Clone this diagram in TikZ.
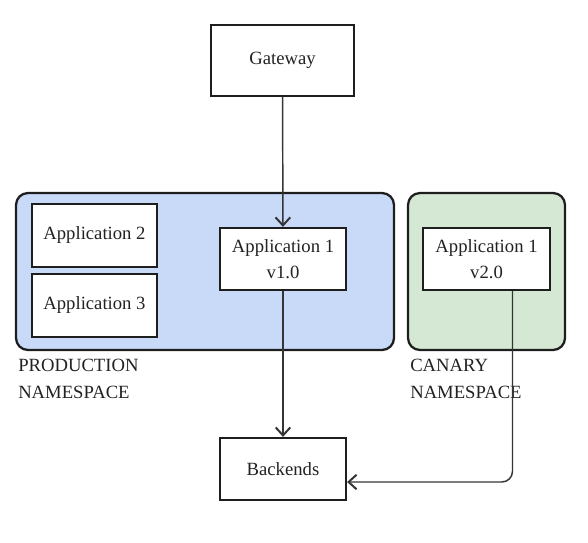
\documentclass[tikz,border=0pt]{standalone}
\usepackage{fontspec}
\setmainfont{Liberation Serif}
\usetikzlibrary{arrows.meta,positioning}
\definecolor{prodblue}{HTML}{C9DAF8}
\definecolor{canarygreen}{HTML}{D5E8D4}
\definecolor{edgegray}{HTML}{1E1E1E}
\definecolor{textgray}{HTML}{222222}

\tikzset{
  box/.style={draw=edgegray, line width=1.7pt, fill=white, rectangle, text=textgray, align=center,
    font=\fontsize{14}{20}\selectfont, inner sep=0pt},
  nsbox/.style={draw=edgegray, line width=1.7pt, rounded corners=9pt, rectangle, inner sep=0pt},
  nslabel/.style={text=textgray, align=left, font=\fontsize{14}{20}\selectfont, inner sep=0pt, anchor=north west},
  link/.style={draw=edgegray!90, line width=1.1pt, -{Straight Barb[length=6pt,width=11pt,line width=1.5pt]}}
}

\begin{document}
\begin{tikzpicture}[x=0.75pt, y=-0.75pt]
\useasboundingbox (0,0) rectangle (588,542);

% namespaces
\node[nsbox, fill=prodblue, minimum width=283.5pt, minimum height=117.75pt] (prod) at (205,271.5) {};
\node[nsbox, fill=canarygreen, minimum width=117.75pt, minimum height=117.75pt] (canary) at (486.5,271.5) {};
\node[nslabel] (prodlbl) at (18,359) {PRODUCTION\\NAMESPACE};
\node[nslabel] (canarylbl) at (410,359) {CANARY\\NAMESPACE};

% boxes
\node[box, minimum width=107pt, minimum height=53pt] (gw) at (282.5,60.5) {Gateway};
\node[box, minimum width=94pt, minimum height=47pt] (app2) at (94.5,235.5) {Application 2};
\node[box, minimum width=94pt, minimum height=47pt] (app3) at (94.5,305.5) {Application 3};
\node[box, minimum width=94.5pt, minimum height=46.5pt] (v1) at (283,259) {Application 1\\v1.0};
\node[box, minimum width=95pt, minimum height=46.5pt] (v2) at (486.5,259) {Application 1\\v2.0};
\node[box, minimum width=94.5pt, minimum height=46.5pt] (back) at (283,469) {Backends};

% connectors
\draw[link] (gw) -- (v1);
\draw[link] (v1) -- (back);
\draw[link, rounded corners=8pt] ([xshift=19.5pt]v2.south) |- ([yshift=-9.75pt]back.east);
\end{tikzpicture}
\end{document}
